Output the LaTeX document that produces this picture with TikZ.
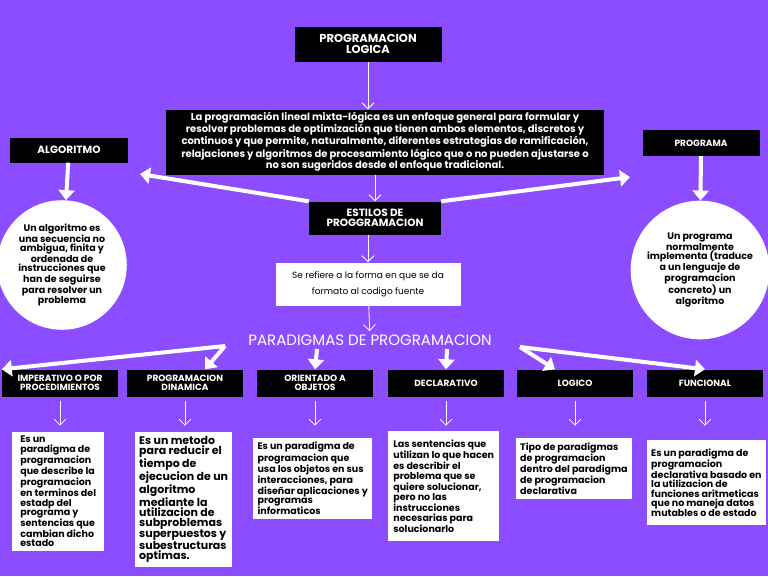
\documentclass[tikz,border=0pt]{standalone}
\usepackage{fontspec}
\setmainfont{Poppins}
\usetikzlibrary{arrows.meta}
\definecolor{bg}{RGB}{139,77,255}
\begin{document}
\begin{tikzpicture}[x=1pt,y=-1pt,
  blk/.style={fill=black,text=white,font=\fontsize{9}{9.5}\selectfont\bfseries,align=center,inner sep=2pt},
  wht/.style={fill=white,text=black,font=\fontsize{9.5}{9.2}\selectfont\bfseries,align=left,anchor=north west,inner sep=4pt},
  thin/.style={draw=white,line width=0.8pt,-{Straight Barb[length=6pt,width=12pt]}},
  thick/.style={draw=white,line width=4pt,-{Triangle[length=10pt,width=16pt]}}]
\useasboundingbox (0,0) rectangle (768,576);
\fill[bg] (0,0) rectangle (768,576);
% top
\node[blk,minimum width=147,minimum height=35,font=\fontsize{11.5}{11.5}\selectfont\bfseries] (title) at (368,44) {PROGRAMACION\\LOGICA};
\node[blk,minimum width=438,minimum height=65,font=\fontsize{10}{10.4}\selectfont\bfseries] (lin) at (385,142) {La programación lineal mixta-lógica es un enfoque general para formular y\\resolver problemas de optimización que tienen ambos elementos, discretos y\\continuos y que permite, naturalmente, diferentes estrategias de ramificación,\\relajaciones y algoritmos de procesamiento lógico que o no pueden ajustarse o\\no son sugeridos desde el enfoque tradicional.};
\node[blk,minimum width=118,minimum height=25,font=\fontsize{10.5}{10.5}\selectfont\bfseries] (alg) at (69,150) {ALGORITMO};
\node[blk,minimum width=117,minimum height=26,font=\fontsize{9}{9}\selectfont\bfseries] (prog) at (701,143) {PROGRAMA};
\node[blk,minimum width=132,minimum height=33,font=\fontsize{10.5}{10.5}\selectfont\bfseries] (est) at (375,218) {ESTILOS DE\\PROGGRAMACION};
\node[fill=white,minimum width=185,minimum height=43,align=center,font=\fontsize{9}{16}\selectfont] (ref) at (368,284) {Se refiere a la forma en que se da\\formato al codigo fuente};
\node[circle,fill=white,minimum size=116,align=center,font=\fontsize{9.5}{9.2}\selectfont\bfseries] (calg) at (62,265) {Un algoritmo es\\una secuencia no\\ambigua, finita y\\ordenada de\\instrucciones que\\han de seguirse\\para resolver un\\problema};
\node[circle,fill=white,minimum size=120,align=center,font=\fontsize{9.5}{9.2}\selectfont\bfseries] (cprog) at (700,270) {Un programa\\normalmente\\implementa (traduce\\a un lenguaje de\\programacion\\concreto) un\\algoritmo};
\node[text=white,font=\fontsize{15}{15}\selectfont] (par) at (370,340) {PARADIGMAS DE PROGRAMACION};
% row
\foreach \n/\x/\t in {imp/60/IMPERATIVO O POR\\PROCEDIMIENTOS, din/185/PROGRAMACION\\DINAMICA, ori/315/ORIENTADO A\\OBJETOS, dec/446/DECLARATIVO, log/575/LOGICO, fun/705/FUNCIONAL}
  \node[blk,minimum width=116,minimum height=27,font=\fontsize{9}{9}\selectfont\bfseries] (\n) at (\x,383) {\t};
% descriptions
\node[wht,minimum width=92,minimum height=113] (dimp) at (12,432) {Es un\\paradigma de\\programacion\\que describe la\\programacion\\en terminos del\\estadp del\\programa y\\sentencias que\\cambian dicho\\estado};
\node[wht,minimum width=93,minimum height=135,font=\fontsize{11}{10}\selectfont\bfseries] (ddin) at (135,432) {Es un metodo\\para reducir el\\tiempo de\\ejecucion de un\\algoritmo\\mediante la\\utilizacion de\\subproblemas\\superpuestos y\\subestructuras\\optimas.};
\node[wht,minimum width=119,minimum height=80] (dori) at (253,438) {Es un paradigma de\\programacion que\\usa los objetos en sus\\interacciones, para\\diseñar aplicaciones y\\programas\\informaticos};
\node[wht,minimum width=111,minimum height=110] (ddec) at (388,431) {Las sentencias que\\utilizan lo que hacen\\es describir el\\problema que se\\quiere solucionar,\\pero no las\\instrucciones\\necesarias para\\solucionarlo};
\node[wht,minimum width=111,minimum height=61] (dlog) at (516,438) {Tipo de paradigmas\\de programacion\\dentro del paradigma\\de programacion\\declarativa};
\node[wht,minimum width=111,minimum height=85] (dfun) at (647,440) {Es un paradigma de\\programacion\\declarativa basado en\\la utilizacion de\\funciones aritmeticas\\que no maneja datos\\mutables o de estado};
% thin connectors
\draw[thin] (title.south) -- (title.south |- lin.north);
\draw[thin] (lin.south -| est) -- (est);
\draw[thin] (est.south -| ref) -- (ref);
\draw[thin] (ref) -- (par);
\foreach \a/\b in {imp/dimp,din/ddin,ori/dori,dec/ddec,log/dlog,fun/dfun}
  \draw[thin] (\a.south) ++(0,4) -- ++(0,25);
% thick connectors
\draw[thick] (est.north west) -- (140,174);
\draw[thick] (est.north east) -- (630,177);
\draw[thick] (alg) -- (calg);
\draw[thick] (prog) -- (cprog);
\coordinate (pl) at (225,346);
\draw[thick] (pl) -- (imp.north west);
\draw[thick] (pl) -- ([xshift=20]din.north);
\draw[thick] (317,349) -- (ori.north);
\draw[thick] (447,349) -- (dec.north);
\draw[thick] (520,347) -- ([xshift=-20]log.north);
\draw[thick] (520,347) -- (fun.north);
\end{tikzpicture}
\end{document}
